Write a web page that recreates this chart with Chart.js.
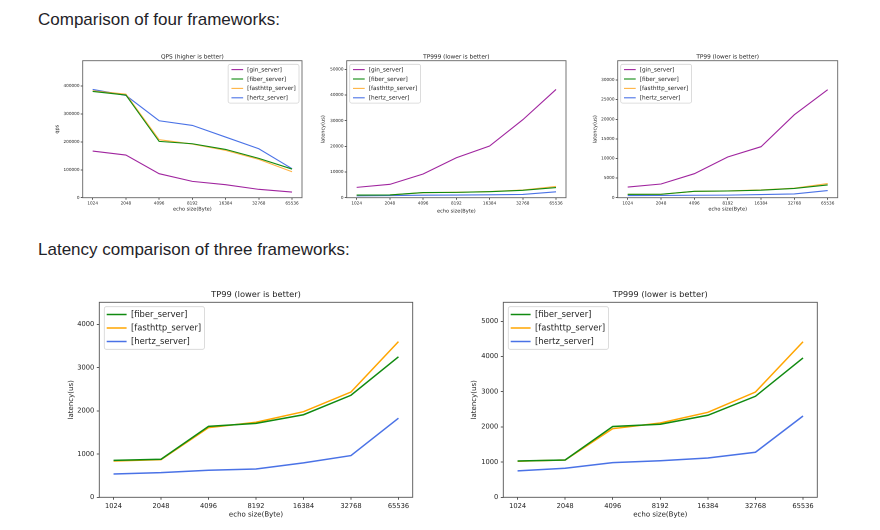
<!DOCTYPE html>
<html>
<head>
<meta charset="utf-8">
<script src="https://cdn.jsdelivr.net/npm/chart.js@4.4.1/dist/chart.umd.min.js"></script>
<style>
  body { margin: 0; background: #fff; }
  #page { position: relative; width: 880px; height: 530px; overflow: hidden;
          font-family: "Liberation Sans", Arial, sans-serif; color: #1f2328; }
  h3 { position: absolute; left: 38px; margin: 0; font-size: 17px; line-height: 20px; font-weight: normal; }
  canvas { position: absolute; }
</style>
</head>
<body>
<div id="page">
  <h3 style="top:10px">Comparison of four frameworks:</h3>
  <h3 style="top:240px">Latency comparison of three frameworks:</h3>
</div>
<script>
// echo sizes on the x axis
const sizes = ['1024', '2048', '4096', '8192', '16384', '32768', '65536'];

// QPS, four frameworks
const qpsGin      = [167000, 152800, 86000, 58500, 46600, 29900, 20300];
const qpsFiber    = [380900, 367800, 201800, 193400, 173100, 140900, 102700];
const qpsFasthttp = [383000, 371300, 207800, 192200, 169600, 137300, 93100];
const qpsHertz    = [388000, 366600, 275800, 259100, 217300, 175500, 103900];

// gin latency (us) in the four framework charts
const tp999Gin = [4030, 5200, 9220, 15580, 20130, 30390, 42200];
const tp99Gin  = [2720, 3490, 6120, 10370, 13000, 21170, 27540];

// TP99 latency (us)
const tp99Fiber    = [855, 880, 1640, 1710, 1910, 2360, 3250];
const tp99Fasthttp = [840, 870, 1610, 1735, 1980, 2435, 3600];
const tp99Hertz    = [540, 570, 625, 655, 795, 965, 1830];

// TP999 latency (us)
const tp999Fiber    = [1030, 1060, 2010, 2075, 2330, 2870, 3960];
const tp999Fasthttp = [1025, 1060, 1950, 2110, 2415, 2990, 4420];
const tp999Hertz    = [750, 825, 985, 1040, 1115, 1280, 2310];

const FONT = '"DejaVu Sans"';
const colors = {
  gin: '#a0259f', fiber: '#108a10', fasthttp: '#ffa500', hertz: '#4a72e6'
};

// matplotlib-like title, frame and legend
const mplDecor = {
  id: 'mplDecor',
  afterDatasetsDraw(chart, args, o) {
    const {ctx, chartArea: a} = chart;
    ctx.save();
    ctx.fillStyle = '#222';
    ctx.font = o.titleSize + 'px ' + FONT;
    ctx.textAlign = 'center';
    ctx.textBaseline = 'middle';
    ctx.fillText(o.title, (a.left + a.right) / 2, o.titleY);

    ctx.strokeStyle = o.frame;
    ctx.lineWidth = 0.9;
    ctx.strokeRect(a.left, a.top, a.right - a.left, a.bottom - a.top);

    const L = o.legend;
    const sets = chart.data.datasets;
    ctx.font = L.size + 'px ' + FONT;
    const tw = Math.max(...sets.map(d => ctx.measureText(d.label).width));
    const w = L.textOff + tw + L.padR;
    const h = 2 * L.padT + (sets.length - 1) * L.rowH;
    const x = L.loc === 'right' ? a.right - L.off - w : a.left + L.off;
    const y = a.top + L.offT;
    ctx.beginPath();
    ctx.roundRect(x, y, w, h, 2);
    ctx.fillStyle = 'rgba(255,255,255,0.85)';
    ctx.fill();
    ctx.strokeStyle = '#d4d4d4';
    ctx.lineWidth = 0.8;
    ctx.stroke();
    ctx.textAlign = 'left';
    sets.forEach((d, i) => {
      const cy = y + L.padT + i * L.rowH;
      ctx.strokeStyle = d.borderColor;
      ctx.lineWidth = d.borderWidth;
      ctx.beginPath();
      ctx.moveTo(x + L.h0, cy);
      ctx.lineTo(x + L.h1, cy);
      ctx.stroke();
      ctx.fillStyle = '#222';
      ctx.fillText(d.label, x + L.textOff, cy + 0.3);
    });
    ctx.restore();
  }
};

const small = {
  tick: 4.2, axis: 5, title: 5.8, lw: 1.1, tickLen: 2, tickPad: 1.2, frame: '#666',
  legend: {size: 5.8, off: 3, offT: 3.6, padT: 5.3, rowH: 9.4, h0: 3.3, h1: 15, textOff: 19, padR: 3.3}
};
const large = {
  tick: 6.7, axis: 7, title: 8.3, lw: 1.5, tickLen: 2.5, tickPad: 2.5, frame: '#555',
  legend: {size: 8.4, off: 5, offT: 4.4, padT: 7.8, rowH: 13.5, h0: 2.4, h1: 22.3, textOff: 26.7, padR: 3.3}
};

function series(label, values, color, st) {
  return {
    label, borderColor: color, backgroundColor: color, borderWidth: st.lw,
    data: values.map((v, i) => ({x: i, y: v})),
    pointRadius: 0, tension: 0, fill: false
  };
}

function makeChart(cfg) {
  const {box, plot, st} = cfg;
  const cv = document.createElement('canvas');
  cv.width = box.w;
  cv.height = box.h;
  cv.style.left = box.x + 'px';
  cv.style.top = box.y + 'px';
  document.getElementById('page').appendChild(cv);

  const tickFont = {family: FONT, size: st.tick};
  const axisFont = {family: FONT, size: st.axis};
  new Chart(cv.getContext('2d'), {
    type: 'line',
    data: {datasets: cfg.datasets},
    plugins: [mplDecor],
    options: {
      responsive: false,
      animation: false,
      devicePixelRatio: 2,
      layout: {padding: {left: 0, bottom: 0, top: plot.t - box.y, right: box.x + box.w - plot.r}},
      plugins: {
        legend: {display: false},
        tooltip: {enabled: false},
        mplDecor: {title: cfg.title, titleSize: st.title, titleY: cfg.titleY - box.y, frame: st.frame, legend: Object.assign({loc: cfg.legendLoc}, st.legend)}
      },
      scales: {
        x: {
          type: 'linear', min: -0.3, max: sizes.length - 0.7,
          afterBuildTicks: s => { s.ticks = sizes.map((_, i) => ({value: i})); },
          afterFit: s => { s.height = box.y + box.h - plot.b; },
          ticks: {callback: v => sizes[v], font: tickFont, color: '#222', padding: st.tickPad, autoSkip: false, maxRotation: 0},
          grid: {drawOnChartArea: false, drawTicks: true, tickLength: st.tickLen, color: '#333', lineWidth: 0.8},
          border: {display: false},
          title: {display: true, text: 'echo size(Byte)', font: axisFont, color: '#222', padding: 0}
        },
        y: {
          min: 0, max: cfg.yMax,
          afterBuildTicks: s => {
            const t = [];
            for (let v = 0; v <= cfg.yMax; v += cfg.yStep) t.push({value: v});
            s.ticks = t;
          },
          afterFit: s => { s.width = plot.l - box.x; },
          ticks: {callback: v => String(v), font: tickFont, color: '#222', padding: st.tickPad, autoSkip: false},
          grid: {drawOnChartArea: false, drawTicks: true, tickLength: st.tickLen, color: '#333', lineWidth: 0.8},
          border: {display: false},
          title: {display: true, text: cfg.yTitle, font: axisFont, color: '#222', padding: 0}
        }
      }
    }
  });
}

const smallOrange = 'rgba(255,160,20,0.8)';

makeChart({
  title: 'QPS (higher is better)', titleY: 57, yTitle: 'qps', yMax: 491000, yStep: 100000,
  box: {x: 54, y: 48, w: 256, h: 164}, plot: {l: 82.7, t: 60.7, r: 302, b: 197.7}, st: small, legendLoc: 'right',
  datasets: [
    series('[gin_server]', qpsGin, colors.gin, small),
    series('[fiber_server]', qpsFiber, colors.fiber, small),
    series('[fasthttp_server]', qpsFasthttp, smallOrange, small),
    series('[hertz_server]', qpsHertz, colors.hertz, small)
  ]
});

makeChart({
  title: 'TP999 (lower is better)', titleY: 57, yTitle: 'latency(us)', yMax: 53400, yStep: 10000,
  box: {x: 320, y: 48, w: 256, h: 166}, plot: {l: 346.7, t: 60.7, r: 566, b: 197.7}, st: small, legendLoc: 'left',
  datasets: [
    series('[gin_server]', tp999Gin, colors.gin, small),
    series('[fiber_server]', tp999Fiber, colors.fiber, small),
    series('[fasthttp_server]', tp999Fasthttp, smallOrange, small),
    series('[hertz_server]', tp999Hertz, colors.hertz, small)
  ]
});

makeChart({
  title: 'TP99 (lower is better)', titleY: 57, yTitle: 'latency(us)', yMax: 34930, yStep: 5000,
  box: {x: 592, y: 48, w: 253, h: 164}, plot: {l: 617.7, t: 60.7, r: 837.7, b: 197.7}, st: small, legendLoc: 'left',
  datasets: [
    series('[gin_server]', tp99Gin, colors.gin, small),
    series('[fiber_server]', tp99Fiber, colors.fiber, small),
    series('[fasthttp_server]', tp99Fasthttp, smallOrange, small),
    series('[hertz_server]', tp99Hertz, colors.hertz, small)
  ]
});

makeChart({
  title: 'TP99 (lower is better)', titleY: 295, yTitle: 'latency(us)', yMax: 4510, yStep: 1000,
  box: {x: 67, y: 285, w: 353, h: 234}, plot: {l: 99.3, t: 302.3, r: 412.7, b: 497.3}, st: large, legendLoc: 'left',
  datasets: [
    series('[fiber_server]', tp99Fiber, colors.fiber, large),
    series('[fasthttp_server]', tp99Fasthttp, colors.fasthttp, large),
    series('[hertz_server]', tp99Hertz, colors.hertz, large)
  ]
});

makeChart({
  title: 'TP999 (lower is better)', titleY: 295, yTitle: 'latency(us)', yMax: 5540, yStep: 1000,
  box: {x: 470, y: 285, w: 355, h: 234}, plot: {l: 503.3, t: 302.3, r: 817.3, b: 497.3}, st: large, legendLoc: 'left',
  datasets: [
    series('[fiber_server]', tp999Fiber, colors.fiber, large),
    series('[fasthttp_server]', tp999Fasthttp, colors.fasthttp, large),
    series('[hertz_server]', tp999Hertz, colors.hertz, large)
  ]
});
</script>
</body>
</html>
